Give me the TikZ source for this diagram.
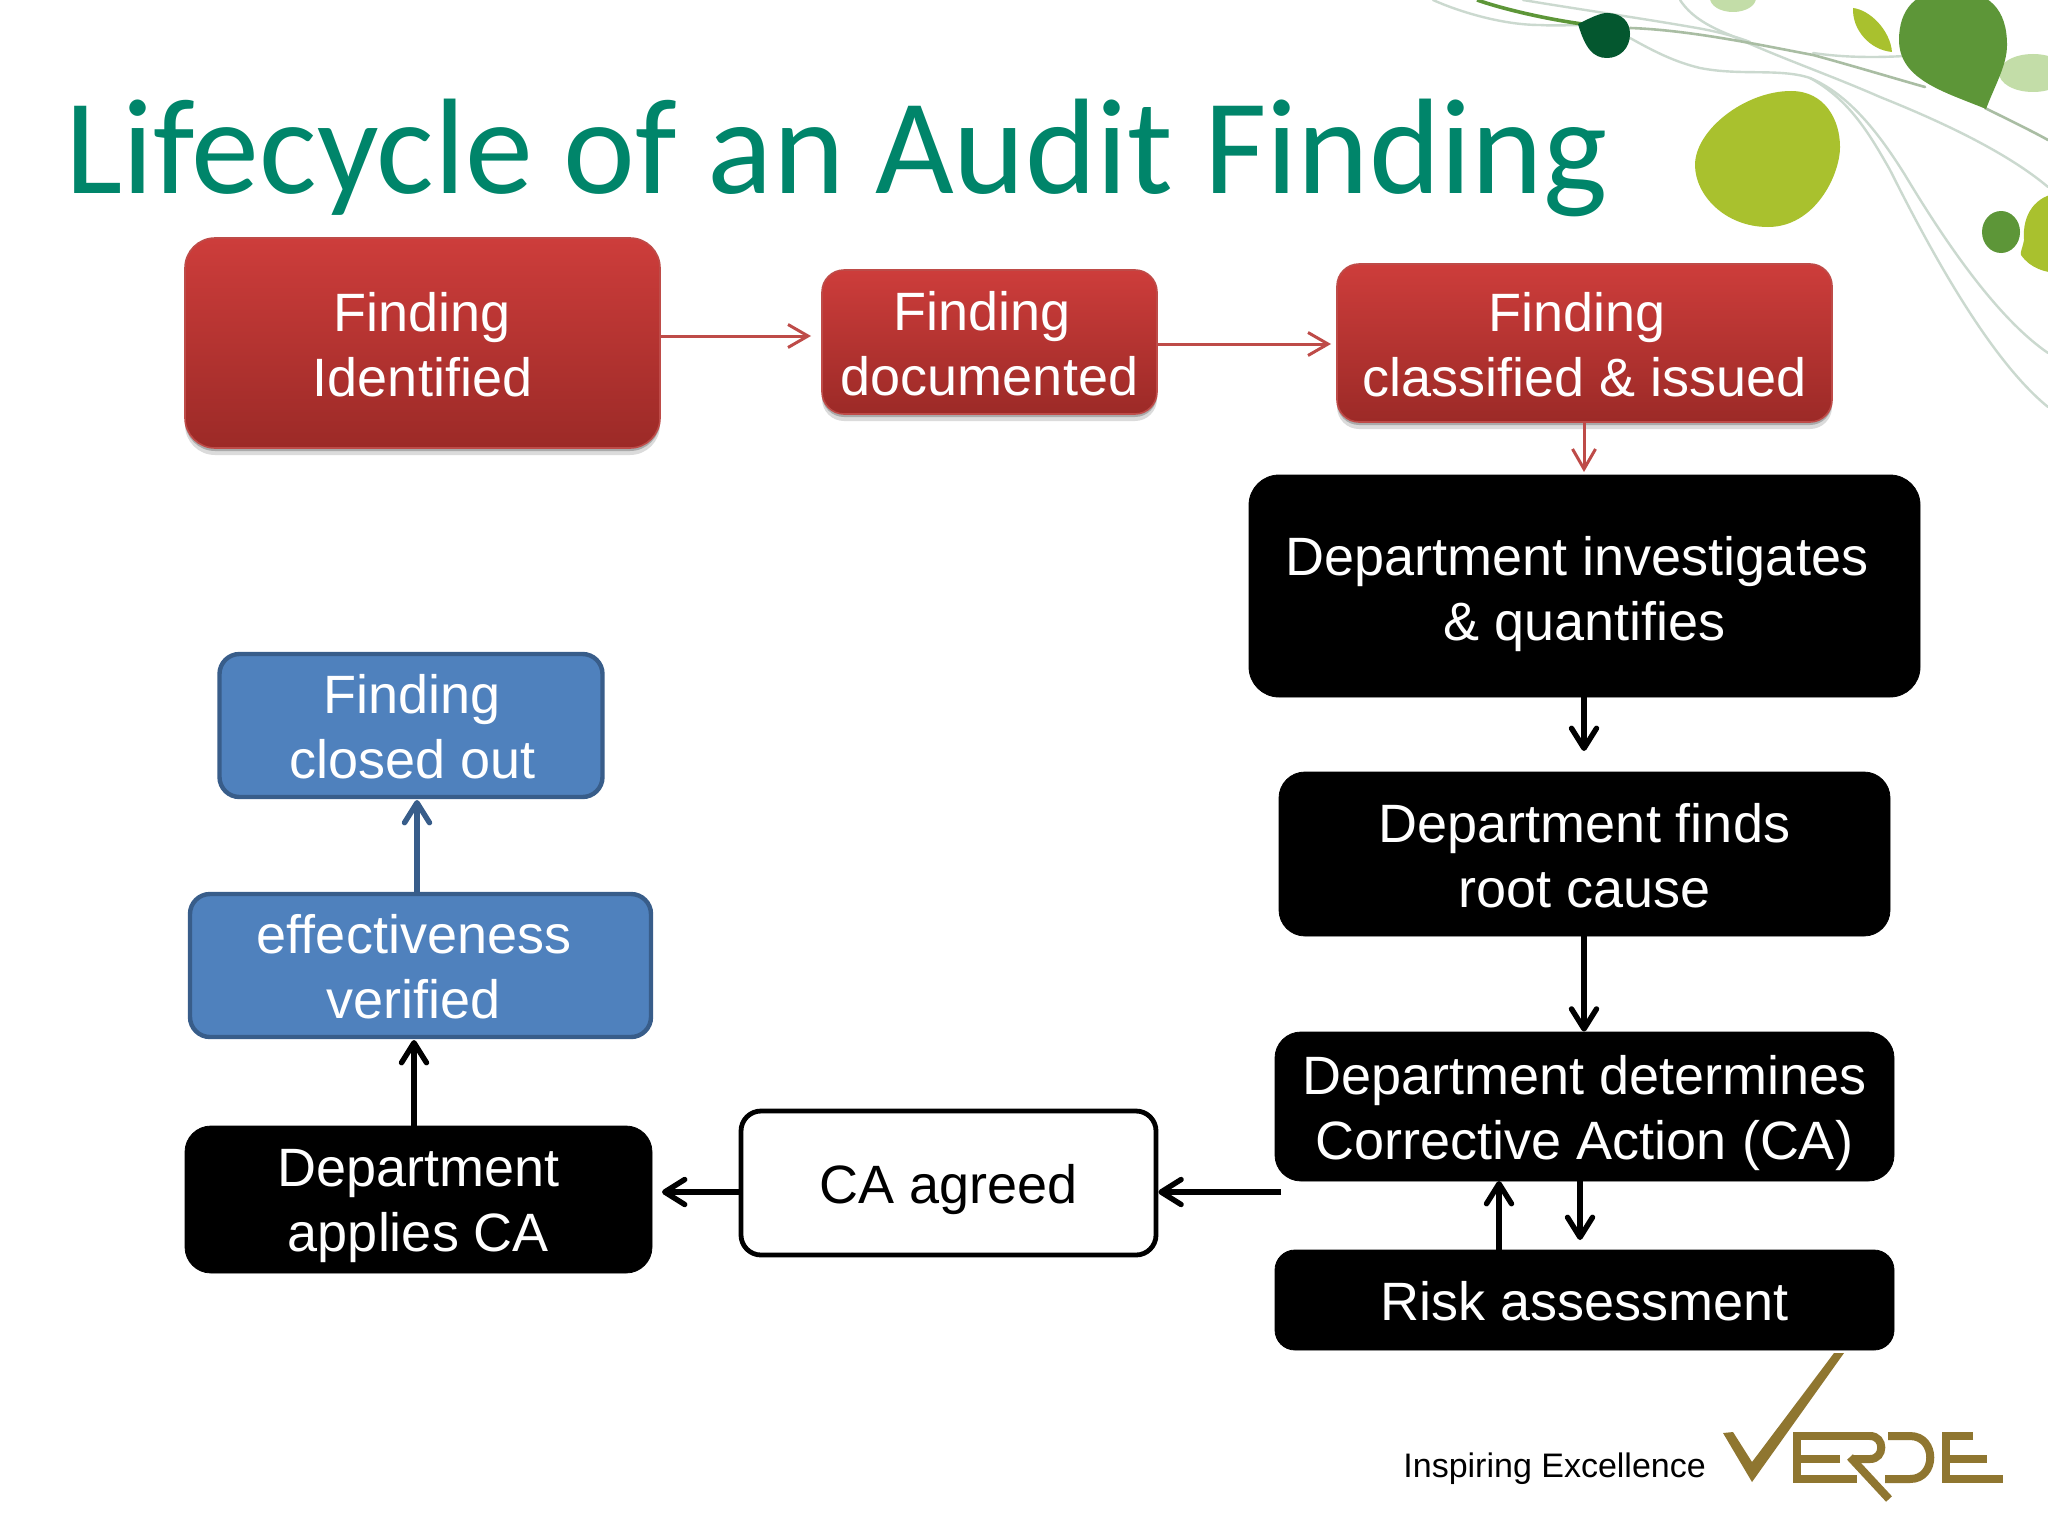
\documentclass[tikz,border=0pt]{standalone}
\usepackage{fontspec}
\setmainfont{Liberation Sans}
\newfontfamily\titlefont{Carlito}
\usetikzlibrary{arrows.meta,shadows,calc}
\definecolor{titlegreen}{HTML}{00856A}
\definecolor{redtop}{HTML}{CD3D3B}
\definecolor{redbot}{HTML}{9C2A27}
\definecolor{redline}{HTML}{BE4B48}
\definecolor{blue1}{HTML}{4F81BD}
\definecolor{blue2}{HTML}{385D8A}
\definecolor{lime}{HTML}{A9C12E}
\definecolor{leaf}{HTML}{5D9638}
\definecolor{deep}{HTML}{04572F}
\definecolor{pale}{HTML}{C3DDA8}
\definecolor{vine}{HTML}{CBD9CF}
\definecolor{vinedark}{HTML}{A9BDA3}
\definecolor{gold}{HTML}{8F7630}
\newcommand{\dropby}[1]{\rule{0pt}{#1pt}}
\tikzset{
  x=0.5pt,y=-0.5pt,
  boxbase/.style={rounded corners=13pt,inner sep=0pt,align=center,font=\fontsize{27}{32.5}\selectfont},
  redbox/.style={boxbase,text=white,draw=redline,line width=.8pt,top color=redtop,bottom color=redbot,
    drop shadow={shadow xshift=0pt,shadow yshift=-1.5pt,opacity=.22,fill=black},
    drop shadow={shadow xshift=0pt,shadow yshift=-3.5pt,opacity=.14,fill=black}},
  blackbox/.style={boxbase,text=white,fill=black,draw=black},
  bluebox/.style={boxbase,text=white,fill=blue1,draw=blue2,line width=2.2pt,rounded corners=10pt},
  whitebox/.style={boxbase,text=black,fill=white,draw=black,line width=2.4pt,rounded corners=10pt},
  redarrow/.style={draw=redline,line width=1.5pt,-{Straight Barb[length=10pt,width=11.5pt,line width=1.5pt]}},
  blackarrow/.style={draw=black,line width=2.7pt,-{Straight Barb[length=10pt,width=12.5pt,line width=2.7pt,round]}},
  bluearrow/.style={draw=blue2,line width=2.7pt,-{Straight Barb[length=10pt,width=12.5pt,line width=2.7pt,round]}},
  vineline/.style={draw=vine,line width=1.2pt,line cap=round},
  vinemain/.style={draw=vinedark,line width=1.3pt,line cap=round},
  logoline/.style={draw=gold,line width=4pt},
}
\begin{document}
\begin{tikzpicture}
\useasboundingbox (0,0) rectangle (2048,1536);
\fill[white] (0,0) rectangle (2048,1536);
\begin{scope}
\clip (0,0) rectangle (2048,1536);
% vines
\draw[vineline] (1433,0) .. controls (1455,10) and (1500,25) .. (1540,25) .. controls (1555,26) and (1570,25) .. (1582,25);
\draw[vineline] (1523,0) .. controls (1570,8) and (1640,18) .. (1697,28) .. controls (1720,32) and (1740,38) .. (1750,42);
\draw[vineline] (1630,38) .. controls (1655,52) and (1675,62) .. (1700,68) .. controls (1740,76) and (1780,68) .. (1810,78) .. controls (1850,95) and (1880,135) .. (1905,175) .. controls (1950,250) and (2000,320) .. (2048,353);
\draw[vineline] (1810,78) .. controls (1850,100) and (1870,135) .. (1890,170) .. controls (1930,250) and (1990,360) .. (2048,407);
\draw[vineline] (1680,0) .. controls (1690,15) and (1705,25) .. (1730,35) .. controls (1780,58) and (1830,75) .. (1880,97) .. controls (1950,125) and (2010,155) .. (2048,187);
\draw[vineline] (1813,53) .. controls (1840,57) and (1870,58) .. (1905,56);
\draw[vinemain] (1630,28) .. controls (1690,30) and (1760,45) .. (1813,55) .. controls (1850,65) and (1900,80) .. (1925,87);
\draw[vinemain] (1985,108) .. controls (2005,118) and (2030,130) .. (2048,140);
\draw[draw=leaf,line width=1.8pt] (1477,0) .. controls (1500,8) and (1540,18) .. (1582,24);
% leaves
\fill[pale] (1733,-2) ellipse [x radius=23,y radius=14];
\fill[pale] (2033,73) ellipse [x radius=34,y radius=19];
\fill[deep] (1578,24) .. controls (1590,18) and (1600,13) .. (1607,13) .. controls (1622,13) and (1630,22) .. (1630,34) .. controls (1630,48) and (1620,58) .. (1607,58) .. controls (1593,58) and (1585,48) .. (1578,24) -- cycle;
\fill[lime] (1853,8) .. controls (1870,10) and (1890,30) .. (1892,52) .. controls (1870,50) and (1852,30) .. (1853,8) -- cycle;
\fill[leaf] (1986,109) .. controls (1945,92) and (1899,80) .. (1899,40) .. controls (1899,10) and (1915,-10) .. (1950,-10) .. controls (1990,-10) and (2007,10) .. (2007,45) .. controls (2007,65) and (1995,85) .. (1986,109) -- cycle;
\fill[lime] (1791,91) .. controls (1825,91) and (1840,120) .. (1840,147) .. controls (1840,175) and (1815,227) .. (1768,227) .. controls (1725,227) and (1695,195) .. (1695,165) .. controls (1695,130) and (1745,91) .. (1791,91) -- cycle;
\fill[leaf] (2001,232) ellipse [x radius=19,y radius=21];
\fill[lime] (2060,193) .. controls (2035,195) and (2022,215) .. (2024,240) .. controls (2022,250) and (2020,252) .. (2021,255) .. controls (2030,268) and (2045,273) .. (2060,273) -- cycle;
\end{scope}
% title
\node[anchor=base west,inner sep=0pt,text=titlegreen,font=\titlefont\fontsize{68}{76}\selectfont] (title) at (65,193) {Lifecycle of an Audit Finding};
% boxes
\node[redbox,minimum width=237.5pt,minimum height=105pt,rounded corners=15pt] (identified) at (422.5,343) {\dropby{21}Finding\\Identified};
\node[redbox,minimum width=167.5pt,minimum height=72pt,rounded corners=11pt] (documented) at (989.5,342) {\dropby{21}Finding\hspace*{.278em}\\documented};
\node[redbox,minimum width=247.5pt,minimum height=79pt,rounded corners=11pt] (classified) at (1584.5,343) {\dropby{21}Finding\hspace*{.278em}\\classified \& issued};
\node[blackbox,minimum width=335.5pt,minimum height=111pt,rounded corners=15pt] (investigates) at (1584.5,586) {\dropby{27.7}Department investigates\hspace*{.278em}\\\& quantifies};
\node[blackbox,minimum width=305.5pt,minimum height=82pt] (rootcause) at (1584.5,854) {\dropby{21}Department finds\\root cause};
\node[blackbox,minimum width=309.5pt,minimum height=74.5pt] (determines) at (1584.5,1106.5) {\dropby{26.2}Department determines\\Corrective Action (CA)};
\node[blackbox,minimum width=309.5pt,minimum height=50pt,rounded corners=10pt] (risk) at (1584.5,1300) {\dropby{21}Risk assessment};
\node[whitebox,minimum width=207.5pt,minimum height=72pt] (agreed) at (948.5,1183) {\dropby{26}CA agreed};
\node[blackbox,minimum width=233.5pt,minimum height=73.5pt] (applies) at (418.5,1199.5) {\dropby{25}Department\\applies CA};
\node[bluebox,minimum width=230.5pt,minimum height=71.5pt] (verified) at (420.5,965.5) {\dropby{21}effectiveness\hspace*{6.5pt}\\verified\hspace*{6.5pt}};
\node[bluebox,minimum width=191.5pt,minimum height=71.5pt] (closed) at (411,725.5) {\dropby{21}\hspace*{1.3pt}Finding\\\hspace*{1.3pt}closed out};
% connectors
\coordinate (t1) at (811,336);
\coordinate (t2) at (1331,344);
\coordinate (t3) at (1584,472);
\coordinate (t4) at (1584,751);
\coordinate (t6) at (1580,1240);
\coordinate (t7) at (1499,1181);
\coordinate (s8) at (1281,1192);
\coordinate (t9) at (662,1192);
\coordinate (t10) at (414,1040);
\coordinate (t11) at (417,800);
\draw[redarrow] (identified.east |- t1) -- (t1);
\draw[redarrow] (documented.east |- t2) -- (t2);
\draw[redarrow] (classified.south -| t3) -- (t3);
\draw[blackarrow] (investigates.south -| t4) -- (t4);
\draw[blackarrow] (rootcause.south -| t4) -- (determines.north -| t4);
\draw[blackarrow] (determines.south -| t6) -- (t6);
\draw[blackarrow] (risk.north -| t7) -- (t7);
\draw[blackarrow] (s8) -- (agreed.east |- s8);
\draw[blackarrow] (agreed.west |- t9) -- (t9);
\draw[blackarrow] (applies.north -| t10) -- (t10);
\draw[bluearrow] (verified.north -| t11) -- (t11);
% footer
\node[anchor=base west,inner sep=0pt,font=\fontsize{17}{20}\selectfont] (tagline) at (1403,1477) {Inspiring Excellence};
% logo
\fill[gold] (1723,1433) -- (1733,1432) -- (1752,1462) -- (1834,1353) -- (1844,1353) -- (1752,1482) -- cycle;
\draw[logoline] (1873,1436) -- (1797,1436) -- (1797,1479) -- (1857,1479);
\draw[logoline] (1797,1459) -- (1840,1459);
\draw[logoline] (1870,1436) .. controls (1885,1436) and (1885,1459) .. (1870,1459) -- (1852,1459);
\draw[logoline] (1850,1457) -- (1889,1499);
\draw[logoline] (1888,1436) -- (1910,1436) .. controls (1937,1436) and (1937,1479) .. (1910,1479) -- (1885,1479);
\draw[logoline] (1973,1436) -- (1946,1436) -- (1946,1479) -- (2003,1479);
\draw[logoline] (1946,1459) -- (1987,1459);
\end{tikzpicture}
\end{document}
